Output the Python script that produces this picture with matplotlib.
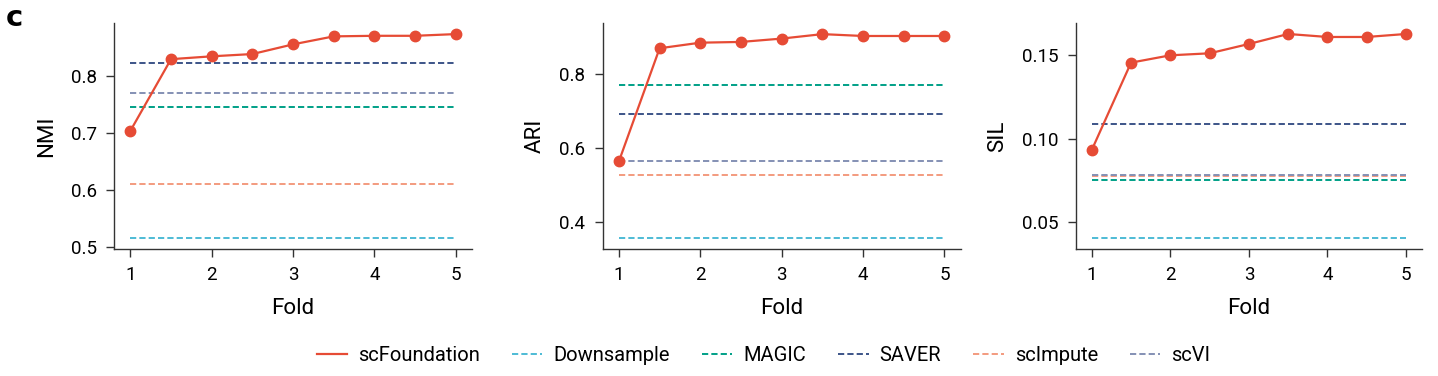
import matplotlib
matplotlib.use("Agg")
import matplotlib.pyplot as plt

plt.rcParams["font.family"] = ["Roboto", "DejaVu Sans"]

# -----------------------------
# Data
# -----------------------------

folds = [1, 1.5, 2, 2.5, 3, 3.5, 4, 4.5, 5]

methods = ["Downsample", "MAGIC", "SAVER", "scImpute", "scVI"]
method_colors = ["#4DBBD5", "#00A087", "#3C5488", "#F39B7F", "#8491B4"]
found_color = "#E64B35"

nmi_found = [0.703, 0.829, 0.834, 0.838, 0.855, 0.869, 0.870, 0.870, 0.873]
nmi_base = [0.515, 0.745, 0.823, 0.610, 0.769]

ari_found = [0.564, 0.868, 0.883, 0.885, 0.894, 0.906, 0.901, 0.901, 0.901]
ari_base = [0.357, 0.769, 0.691, 0.527, 0.564]

sil_found = [0.0932, 0.1456, 0.1500, 0.1512, 0.1568, 0.1628, 0.1610, 0.1610, 0.1628]
sil_base = [0.0402, 0.0754, 0.1088, 0.0774, 0.0780]

panels = [
    ("NMI", nmi_found, nmi_base, (0.496, 0.8925), [0.5, 0.6, 0.7, 0.8], "{:.1f}"),
    ("ARI", ari_found, ari_base, (0.328, 0.936), [0.4, 0.6, 0.8], "{:.1f}"),
    ("SIL", sil_found, sil_base, (0.0338, 0.1694), [0.05, 0.10, 0.15], "{:.2f}"),
]

positions = [
    [0.0793, 0.3378, 0.2490, 0.6011],
    [0.4191, 0.3378, 0.2490, 0.6011],
    [0.7483, 0.3378, 0.2404, 0.6011],
]

# -----------------------------
# Figure
# -----------------------------

fig = plt.figure(figsize=(14.38, 3.76), dpi=100)

for pos, (name, found, base, ylim, yticks, fmt) in zip(positions, panels):
    ax = fig.add_axes(pos)

    for m, c, v in zip(methods, method_colors, base):
        ax.plot([folds[0], folds[-1]], [v, v], color=c, lw=1.4,
                dashes=(3.2, 1.6), label=m, zorder=2)

    ax.plot(folds, found, color=found_color, lw=1.6, marker="o",
            markersize=7.5, label="scFoundation", zorder=3)

    ax.set_xlim(0.8, 5.2)
    ax.set_ylim(*ylim)
    ax.set_xticks([1, 2, 3, 4, 5])
    ax.set_yticks(yticks)
    ax.set_yticklabels([fmt.format(t) for t in yticks])

    ax.spines["top"].set_visible(False)
    ax.spines["right"].set_visible(False)
    for s in ["left", "bottom"]:
        ax.spines[s].set_color("#333333")
        ax.spines[s].set_linewidth(1.0)

    ax.tick_params(length=5.5, width=1, color="#333333", labelsize=13.5, pad=7)
    ax.set_xlabel("Fold", fontsize=16, labelpad=10)
    ax.set_ylabel(name, fontsize=16, labelpad=10)

fig.text(0.004, 0.99, "c", fontsize=21, fontweight="heavy",
         family="DejaVu Sans", va="top")

# legend in custom order
handles, labels = ax.get_legend_handles_labels()
order = [labels.index(l) for l in ["scFoundation"] + methods]
fig.legend([handles[i] for i in order], [labels[i] for i in order],
           loc="center", bbox_to_anchor=(0.531, 0.054), ncol=6, frameon=False,
           fontsize=14.5, handlelength=1.5, columnspacing=1.6, handletextpad=0.55)

# markers off in legend handle for scFoundation
for line in fig.legends[0].get_lines():
    line.set_marker("")

plt.savefig("out.png", dpi=100)
plt.close()
